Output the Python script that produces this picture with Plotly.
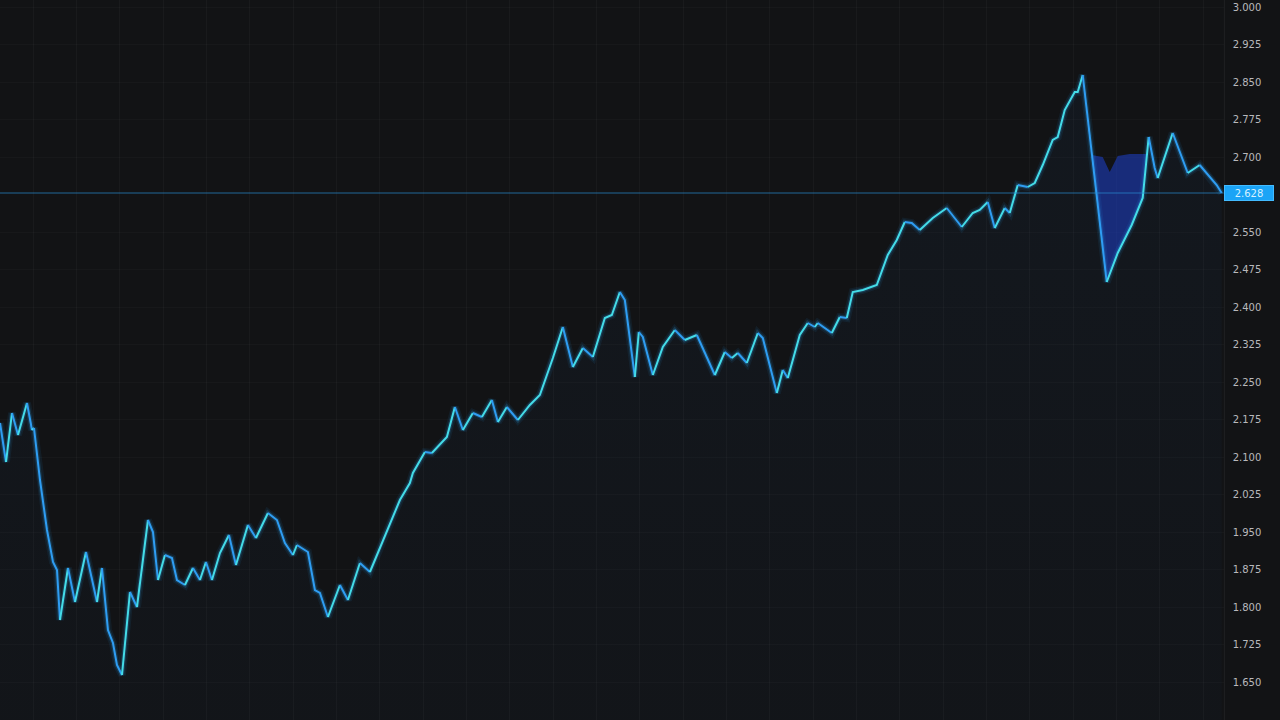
import plotly.graph_objects as go

# ---- data ----
t = [0, 1.2, 2.4, 3.6, 5.4, 6.4, 6.8, 8.0, 9.4, 10.6, 11.4, 12.0, 13.6, 15.0, 17.2, 19.4, 20.4, 21.6,
     22.6, 23.4, 24.4, 26.0, 27.4, 29.6, 30.6, 31.6, 33.0, 34.4, 35.4, 37.0, 38.6, 40.0, 41.2, 42.4,
     44.0, 45.8, 47.2, 49.6, 51.2, 53.6, 55.4, 57.0, 58.6, 59.4, 61.6, 63.0, 64.0, 65.6, 68.0, 69.6,
     72.0, 74.0, 76.6, 80.0, 82.0, 82.6, 85.0, 86.4, 89.4, 91.0, 92.6, 94.6, 96.4, 98.4, 99.6, 101.4,
     103.6, 106.0, 108.0, 110.6, 112.6, 114.6, 116.6, 118.6, 121.0, 122.4, 124.0, 125.0, 127.0, 127.8,
     128.6, 130.6, 132.6, 135.0, 137.0, 139.4, 143.0, 145.0, 146.4, 147.6, 149.4, 151.6, 152.6, 155.4,
     156.6, 157.6, 160.0, 161.6, 163.0, 163.6, 166.4, 168.0, 169.4, 170.6, 172.6, 175.4, 177.6, 179.4,
     181.0, 182.4, 184.0, 186.6, 189.4, 192.4, 194.6, 196.0, 197.6, 199.0, 201.0, 202.0, 203.6, 205.6,
     207.0, 208.6, 210.6, 211.6, 213.0, 215.0, 215.6, 216.6, 218.0, 220.0, 221.4, 223.6, 226.4, 228.6,
     229.8, 231.0, 231.6, 234.6, 237.6, 240.0, 243.4, 244.4]
price = [2.168, 2.090, 2.188, 2.144, 2.208, 2.154, 2.158, 2.054, 1.954, 1.890, 1.874, 1.774, 1.878,
         1.810, 1.910, 1.810, 1.878, 1.754, 1.728, 1.684, 1.664, 1.830, 1.800, 1.974, 1.950, 1.854,
         1.904, 1.898, 1.854, 1.844, 1.878, 1.854, 1.890, 1.854, 1.908, 1.944, 1.884, 1.964, 1.938,
         1.988, 1.974, 1.928, 1.904, 1.924, 1.910, 1.834, 1.828, 1.780, 1.844, 1.814, 1.888, 1.870,
         1.934, 2.014, 2.048, 2.068, 2.110, 2.108, 2.140, 2.200, 2.154, 2.188, 2.180, 2.214, 2.170,
         2.200, 2.174, 2.204, 2.224, 2.298, 2.360, 2.280, 2.318, 2.300, 2.378, 2.384, 2.430, 2.414,
         2.260, 2.350, 2.340, 2.264, 2.320, 2.354, 2.334, 2.344, 2.264, 2.310, 2.298, 2.308, 2.288,
         2.348, 2.338, 2.228, 2.274, 2.258, 2.344, 2.368, 2.360, 2.368, 2.348, 2.380, 2.378, 2.430,
         2.434, 2.444, 2.504, 2.534, 2.570, 2.568, 2.554, 2.578, 2.598, 2.560, 2.588, 2.594, 2.610,
         2.558, 2.598, 2.588, 2.644, 2.640, 2.648, 2.684, 2.734, 2.740, 2.794, 2.830, 2.830, 2.864,
         2.740, 2.568, 2.450, 2.508, 2.564, 2.618, 2.740, 2.678, 2.658, 2.748, 2.668, 2.684, 2.644,
         2.628]

# shaded band in the late dip (upper edge), lower edge follows the price line
band_t = [218.4, 220.6, 222.0, 223.6, 226.0, 229.4]
band_top = [2.704, 2.700, 2.670, 2.702, 2.706, 2.706]

tick_vals = [3.000, 2.925, 2.850, 2.775, 2.700, 2.550, 2.475, 2.400, 2.325, 2.250,
             2.175, 2.100, 2.025, 1.950, 1.875, 1.800, 1.725, 1.650]
tick_text = [f"{v:.3f}" for v in tick_vals]

BG = "#121315"
UP = "#44dce8"
DOWN = "#2f9df3"

fig = go.Figure()

# faint area under the line
fig.add_trace(go.Scatter(
    x=t, y=price, mode="lines", line=dict(width=0, color="rgba(0,0,0,0)"),
    fill="tozeroy",
    fillgradient=dict(type="vertical",
                      colorscale=[[0, "rgba(20,40,70,0.0)"], [1, "rgba(30,70,120,0.10)"]]),
    hoverinfo="skip"))

# blue band between line and upper edge
inner_t = [x for x in t if band_t[0] < x < band_t[-1]]
inner_p = [p for x, p in zip(t, price) if band_t[0] < x < band_t[-1]]
fig.add_trace(go.Scatter(x=inner_t, y=inner_p, mode="lines",
                         line=dict(width=0, color="rgba(0,0,0,0)"), hoverinfo="skip"))
fig.add_trace(go.Scatter(x=band_t, y=band_top, mode="lines",
                         line=dict(width=0, color="rgba(0,0,0,0)"),
                         fill="tonexty", fillcolor="rgba(28,62,190,0.60)", hoverinfo="skip"))

# glow
fig.add_trace(go.Scatter(x=t, y=price, mode="lines",
                         line=dict(width=8, color="rgba(40,160,255,0.08)"), hoverinfo="skip"))
fig.add_trace(go.Scatter(x=t, y=price, mode="lines",
                         line=dict(width=4.5, color="rgba(50,180,255,0.18)"), hoverinfo="skip"))

# main line, coloured by direction runs
i = 0
n = len(t)
while i < n - 1:
    up = price[i + 1] >= price[i]
    j = i
    while j < n - 1 and (price[j + 1] >= price[j]) == up:
        j += 1
    fig.add_trace(go.Scatter(x=t[i:j + 1], y=price[i:j + 1], mode="lines",
                             line=dict(width=2, color=UP if up else DOWN),
                             hoverinfo="skip"))
    i = j

last = price[-1]
fig.add_shape(type="line", xref="paper", x0=0, x1=0.956, yref="y", y0=last, y1=last,
              line=dict(color="rgba(40,140,210,0.7)", width=1))
fig.add_shape(type="line", xref="paper", x0=0.9565, x1=0.9565, yref="paper", y0=0, y1=1,
              line=dict(color="rgba(255,255,255,0.06)", width=1))

fig.add_annotation(xref="paper", x=0.9565, xanchor="left", yref="y", y=last, yanchor="middle",
                   text=f"{last:.3f}", showarrow=False, bgcolor="#1ba4f6",
                   bordercolor="#43bbff", borderwidth=1, width=46, height=12,
                   font=dict(family="DejaVu Sans", size=10, color="#d8f1ff"))

fig.update_layout(
    width=1280, height=720, paper_bgcolor=BG, plot_bgcolor=BG,
    margin=dict(l=0, r=0, t=0, b=0), showlegend=False, hovermode=False,
    xaxis=dict(domain=[0, 0.956], range=[0, 244.8], showticklabels=False, zeroline=False,
               showgrid=True, gridcolor="rgba(255,255,255,0.03)", gridwidth=1,
               tick0=6.667, dtick=8.667, showline=False),
    yaxis=dict(side="right", range=[1.574, 3.014], tickvals=tick_vals, ticktext=tick_text,
               showgrid=True, gridcolor="rgba(255,255,255,0.022)", zeroline=False,
               tickfont=dict(family="DejaVu Sans", size=10, color="#b9b9bd"),
               ticks="", automargin=False, ticklabelstandoff=8),
)

fig.write_html("out.html", config={"displayModeBar": False},
               post_script="document.body.style.margin='0px';document.body.style.background='#121315';")
